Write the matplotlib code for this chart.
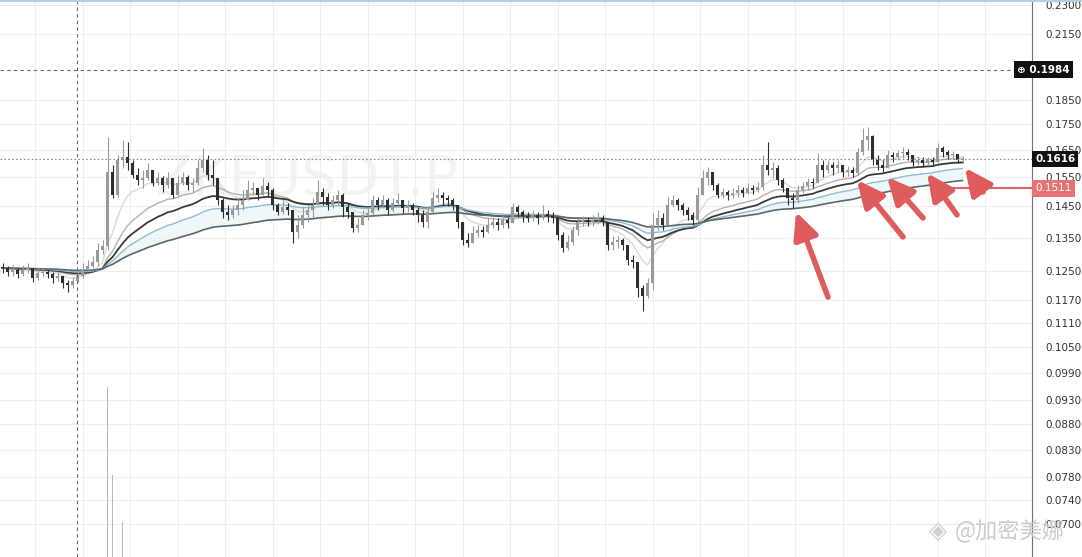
import matplotlib.pyplot as plt
import matplotlib.transforms as mtransforms
import numpy as np
import pandas as pd

# Datos de las velas (cierre, maximo, minimo)
first_open = 0.1262
closes = [0.1259, 0.1248, 0.1253, 0.1242, 0.1253, 0.1259, 0.1231, 0.1245, 0.1248, 0.1242,
          0.1231, 0.1236, 0.1217, 0.1211, 0.1222, 0.1236, 0.1256, 0.1265, 0.1277, 0.1313,
          0.1325, 0.1569, 0.1488, 0.1613, 0.1624, 0.1602, 0.1558, 0.1540, 0.1547, 0.1576,
          0.1530, 0.1547, 0.1523, 0.1547, 0.1488, 0.1530, 0.1551, 0.1523, 0.1530, 0.1584,
          0.1613, 0.1558, 0.1547, 0.1471, 0.1432, 0.1422, 0.1438, 0.1455, 0.1471, 0.1505,
          0.1512, 0.1488, 0.1519, 0.1505, 0.1455, 0.1432, 0.1448, 0.1438, 0.1368, 0.1390,
          0.1422, 0.1438, 0.1455, 0.1499, 0.1482, 0.1455, 0.1471, 0.1488, 0.1448, 0.1432,
          0.1380, 0.1390, 0.1422, 0.1428, 0.1471, 0.1455, 0.1471, 0.1438, 0.1461, 0.1471,
          0.1445, 0.1455, 0.1438, 0.1422, 0.1399, 0.1432, 0.1478, 0.1488, 0.1478, 0.1471,
          0.1455, 0.1399, 0.1343, 0.1334, 0.1365, 0.1374, 0.1368, 0.1390, 0.1399, 0.1390,
          0.1406, 0.1396, 0.1448, 0.1432, 0.1419, 0.1412, 0.1422, 0.1412, 0.1425, 0.1419,
          0.1412, 0.1359, 0.1319, 0.1337, 0.1374, 0.1399, 0.1406, 0.1399, 0.1406, 0.1412,
          0.1399, 0.1328, 0.1337, 0.1343, 0.1328, 0.1283, 0.1277, 0.1203, 0.1181, 0.1217,
          0.1390, 0.1412, 0.1390, 0.1455, 0.1471, 0.1455, 0.1438, 0.1422, 0.1406, 0.1488,
          0.1547, 0.1569, 0.1523, 0.1488, 0.1499, 0.1488, 0.1495, 0.1505, 0.1495, 0.1512,
          0.1505, 0.1516, 0.1594, 0.1576, 0.1584, 0.1540, 0.1512, 0.1478, 0.1471, 0.1505,
          0.1519, 0.1533, 0.1530, 0.1594, 0.1576, 0.1594, 0.1584, 0.1594, 0.1569, 0.1576,
          0.1565, 0.1642, 0.1688, 0.1704, 0.1613, 0.1594, 0.1584, 0.1631, 0.1624, 0.1639,
          0.1642, 0.1631, 0.1605, 0.1613, 0.1602, 0.1613, 0.1605, 0.1658, 0.1642, 0.1631,
          0.1635, 0.1613, 0.1616]
highs = [0.1274, 0.1265, 0.1268, 0.1259, 0.1268, 0.1274, 0.1259, 0.1259, 0.1259, 0.1253,
         0.1248, 0.1248, 0.1236, 0.1225, 0.1234, 0.1253, 0.1274, 0.1283, 0.1295, 0.1334,
         0.1343, 0.1700, 0.1594, 0.1631, 0.1688, 0.1680, 0.1613, 0.1584, 0.1576, 0.1602,
         0.1576, 0.1569, 0.1555, 0.1569, 0.1547, 0.1558, 0.1569, 0.1558, 0.1547, 0.1613,
         0.1658, 0.1631, 0.1613, 0.1547, 0.1478, 0.1455, 0.1455, 0.1478, 0.1505, 0.1540,
         0.1533, 0.1512, 0.1547, 0.1533, 0.1512, 0.1461, 0.1471, 0.1461, 0.1438, 0.1422,
         0.1448, 0.1455, 0.1478, 0.1540, 0.1512, 0.1495, 0.1488, 0.1505, 0.1495, 0.1461,
         0.1432, 0.1412, 0.1438, 0.1445, 0.1488, 0.1482, 0.1488, 0.1478, 0.1478, 0.1495,
         0.1471, 0.1471, 0.1461, 0.1448, 0.1438, 0.1448, 0.1499, 0.1512, 0.1499, 0.1488,
         0.1478, 0.1455, 0.1390, 0.1365, 0.1387, 0.1390, 0.1387, 0.1412, 0.1415, 0.1412,
         0.1422, 0.1415, 0.1461, 0.1455, 0.1438, 0.1432, 0.1438, 0.1432, 0.1455, 0.1438,
         0.1432, 0.1412, 0.1368, 0.1359, 0.1387, 0.1412, 0.1419, 0.1415, 0.1422, 0.1432,
         0.1422, 0.1399, 0.1356, 0.1356, 0.1349, 0.1328, 0.1298, 0.1268, 0.1211, 0.1231,
         0.1428, 0.1438, 0.1428, 0.1482, 0.1488, 0.1478, 0.1461, 0.1448, 0.1432, 0.1516,
         0.1576, 0.1587, 0.1569, 0.1530, 0.1512, 0.1505, 0.1512, 0.1523, 0.1516, 0.1530,
         0.1523, 0.1533, 0.1631, 0.1680, 0.1605, 0.1594, 0.1547, 0.1512, 0.1495, 0.1523,
         0.1533, 0.1547, 0.1547, 0.1639, 0.1613, 0.1613, 0.1605, 0.1613, 0.1594, 0.1591,
         0.1587, 0.1658, 0.1735, 0.1739, 0.1708, 0.1631, 0.1613, 0.1650, 0.1642, 0.1650,
         0.1662, 0.1654, 0.1631, 0.1627, 0.1624, 0.1624, 0.1624, 0.1677, 0.1665, 0.1650,
         0.1646, 0.1631, 0.1627]
lows = [0.1245, 0.1236, 0.1236, 0.1231, 0.1236, 0.1245, 0.1220, 0.1225, 0.1236, 0.1231,
        0.1217, 0.1222, 0.1203, 0.1192, 0.1203, 0.1220, 0.1231, 0.1250, 0.1259, 0.1265,
        0.1301, 0.1313, 0.1478, 0.1482, 0.1584, 0.1576, 0.1547, 0.1523, 0.1512, 0.1540,
        0.1519, 0.1523, 0.1499, 0.1512, 0.1478, 0.1488, 0.1523, 0.1505, 0.1499, 0.1523,
        0.1569, 0.1540, 0.1523, 0.1455, 0.1412, 0.1406, 0.1412, 0.1422, 0.1438, 0.1471,
        0.1488, 0.1471, 0.1488, 0.1482, 0.1438, 0.1422, 0.1425, 0.1422, 0.1334, 0.1349,
        0.1380, 0.1399, 0.1412, 0.1455, 0.1455, 0.1438, 0.1445, 0.1455, 0.1415, 0.1412,
        0.1368, 0.1368, 0.1390, 0.1406, 0.1422, 0.1438, 0.1445, 0.1422, 0.1432, 0.1448,
        0.1428, 0.1432, 0.1422, 0.1399, 0.1383, 0.1380, 0.1438, 0.1465, 0.1455, 0.1451,
        0.1438, 0.1380, 0.1328, 0.1322, 0.1343, 0.1352, 0.1352, 0.1365, 0.1380, 0.1374,
        0.1380, 0.1380, 0.1399, 0.1415, 0.1399, 0.1399, 0.1403, 0.1393, 0.1406, 0.1399,
        0.1396, 0.1343, 0.1307, 0.1313, 0.1328, 0.1359, 0.1387, 0.1387, 0.1387, 0.1393,
        0.1387, 0.1313, 0.1313, 0.1319, 0.1313, 0.1268, 0.1259, 0.1178, 0.1141, 0.1176,
        0.1197, 0.1374, 0.1374, 0.1399, 0.1448, 0.1438, 0.1422, 0.1406, 0.1390, 0.1399,
        0.1488, 0.1523, 0.1505, 0.1478, 0.1478, 0.1471, 0.1478, 0.1482, 0.1482, 0.1492,
        0.1492, 0.1499, 0.1505, 0.1558, 0.1547, 0.1523, 0.1499, 0.1455, 0.1445, 0.1461,
        0.1495, 0.1505, 0.1512, 0.1530, 0.1551, 0.1565, 0.1558, 0.1569, 0.1551, 0.1555,
        0.1551, 0.1558, 0.1631, 0.1650, 0.1594, 0.1576, 0.1569, 0.1587, 0.1605, 0.1613,
        0.1620, 0.1613, 0.1591, 0.1594, 0.1587, 0.1594, 0.1591, 0.1602, 0.1624, 0.1616,
        0.1620, 0.1602, 0.1602]

# Volumen visible abajo (solo las barras grandes)
vol_idx = [21, 22, 24]
vol_vals = [1000, 480, 205]

# Medias moviles exponenciales
ema_spans = [9, 20, 30, 45, 80]
ema_colors = ["#dadada", "#b3b3b3", "#3a3a3a", "#8dbdd2", "#5d676c"]
ema_widths = [1.0, 1.0, 1.3, 1.0, 1.2]

# Etiquetas del eje de precios
price_ticks = [0.2300, 0.2150, 0.1850, 0.1750, 0.1650, 0.1550, 0.1450, 0.1350, 0.1250,
               0.1170, 0.1110, 0.1050, 0.0990, 0.0930, 0.0880, 0.0830, 0.0780, 0.0740, 0.0700]
cross_price = 0.1984
last_price = 0.1616
level_price = 0.1511

# Flechas rojas: (punta, cola) en (vela, precio)
arrow_tips = [(158.7, 0.1432), (170.9, 0.1540), (176.9, 0.1551), (184.9, 0.1565), (192.5, 0.1584)]
arrow_tails = [(165.1, 0.1178), (180.1, 0.1352), (184.1, 0.1412), (190.9, 0.1422), (196.1, 0.1499)]

closes = np.array(closes)
highs = np.array(highs)
lows = np.array(lows)
opens = np.concatenate([[first_open], closes[:-1]])
n = len(closes)
x = np.arange(n)

fig = plt.figure(figsize=(10.82, 5.57), dpi=100)
ax = fig.add_axes([0, 0, 1032 / 1082, 1])

# Volumen (eje gemelo, se crea antes para no mover las etiquetas)
ax2 = ax.twinx()
ax2.set_ylim(0, 3276)
ax2.bar(vol_idx, vol_vals, width=0.35, color="#b8b8b8")
ax2.axis("off")

ax.set_yscale("log")
ax.set_ylim(0.06494, 0.23265)
ax.set_xlim(-0.5, 1032 / 5 - 0.5)

# Rejilla y eje de precios a la derecha
ax.set_yticks(price_ticks)
ax.set_yticklabels([f"{p:.4f}" for p in price_ticks])
ax.yaxis.set_minor_locator(plt.NullLocator())
ax.tick_params(axis="y", left=False, right=False, labelleft=False, labelright=True,
               pad=6, labelsize=7.5, labelcolor="#333333")
ax.set_xticks(np.arange(6.5, 206, 9.5))
ax.tick_params(axis="x", length=0, labelbottom=False)
ax.grid(True, color="#eeeeee", lw=0.8)
ax.set_axisbelow(True)
for s in ["top", "left", "bottom"]:
    ax.spines[s].set_visible(False)
ax.spines["right"].set_color("#707070")

# Marca de agua del simbolo
ax.text(0.297, 0.677, "ZKFUSDT.P", transform=ax.transAxes, fontsize=40,
        color="#f3f3f3", ha="center", va="center", zorder=0)

# EMAs
emas = [pd.Series(closes).ewm(span=s, adjust=False).mean().values for s in ema_spans]
ax.fill_between(x, emas[3], emas[4], color="#eaf5f9", alpha=0.8, lw=0, zorder=1)
for e, c, w in zip(emas, ema_colors, ema_widths):
    ax.plot(x, e, color=c, lw=w, zorder=2)

# Velas
up = closes >= opens
colors = np.where(up, "#9a9a9a", "#2e2e2e")
top = np.maximum.reduce([highs, opens, closes])
bot = np.minimum.reduce([lows, opens, closes])
ax.vlines(x, bot, top, colors=colors, lw=0.8, zorder=3)
ax.bar(x, np.abs(closes - opens), bottom=np.minimum(opens, closes), width=0.55,
       color=colors, zorder=3)

# Lineas de cruz y ultimo precio
ax.axhline(cross_price, color="#666666", lw=0.8, ls=(0, (3, 3)), zorder=4)
ax.axvline(14.9, color="#666666", lw=0.8, ls=(0, (3, 3)), zorder=4)
ax.axhline(last_price, color="#8a8a8a", lw=0.8, ls=(0, (1.5, 2)), zorder=4)
ax.plot([188.5, 205.9], [level_price, level_price], color="#e06666", lw=1.5, zorder=5)

# Flechas
for tip, tail in zip(arrow_tips, arrow_tails):
    ax.annotate("", xy=tip, xytext=tail,
                arrowprops=dict(arrowstyle="-|>,head_length=0.8,head_width=0.38",
                                mutation_scale=20, lw=4, color="#e05c5c",
                                shrinkA=0, shrinkB=0), zorder=6)

# Etiquetas de precio en el eje
tr = mtransforms.blended_transform_factory(ax.transAxes, ax.transData)
ax.text(1017 / 1032, cross_price, "\u2295 0.1984", transform=tr, fontsize=7.5,
        color="white", fontweight="bold", va="center", ha="left", clip_on=False, zorder=10,
        bbox=dict(boxstyle="square,pad=0.3", fc="#111111", ec="none"))
ax.text(1035 / 1032, last_price, "0.1616", transform=tr, fontsize=7.5,
        color="white", fontweight="bold", va="center", ha="left", clip_on=False, zorder=10,
        bbox=dict(boxstyle="square,pad=0.3", fc="#111111", ec="none"))
ax.text(1035 / 1032, level_price, "0.1511", transform=tr, fontsize=7.5,
        color="white", va="center", ha="left", clip_on=False, zorder=10,
        bbox=dict(boxstyle="square,pad=0.3", fc="#e57373", ec="none"))

# Linea superior
fig.add_artist(plt.Line2D([0, 1], [0.999, 0.999], color="#b8cde0", lw=1.5))

# Marca de agua de abajo
fig.text(938 / 1082, 1 - 531 / 557, "\u25c8", fontsize=17, color="#d0d0d0",
         ha="center", va="center", family=["DejaVu Sans"])
fig.text(955 / 1082, 1 - 531 / 557, "@加密美娜", fontsize=16, color="#cccccc",
         ha="left", va="center", family=["Noto Sans CJK SC", "DejaVu Sans"])

fig.savefig("out.png", dpi=100)
